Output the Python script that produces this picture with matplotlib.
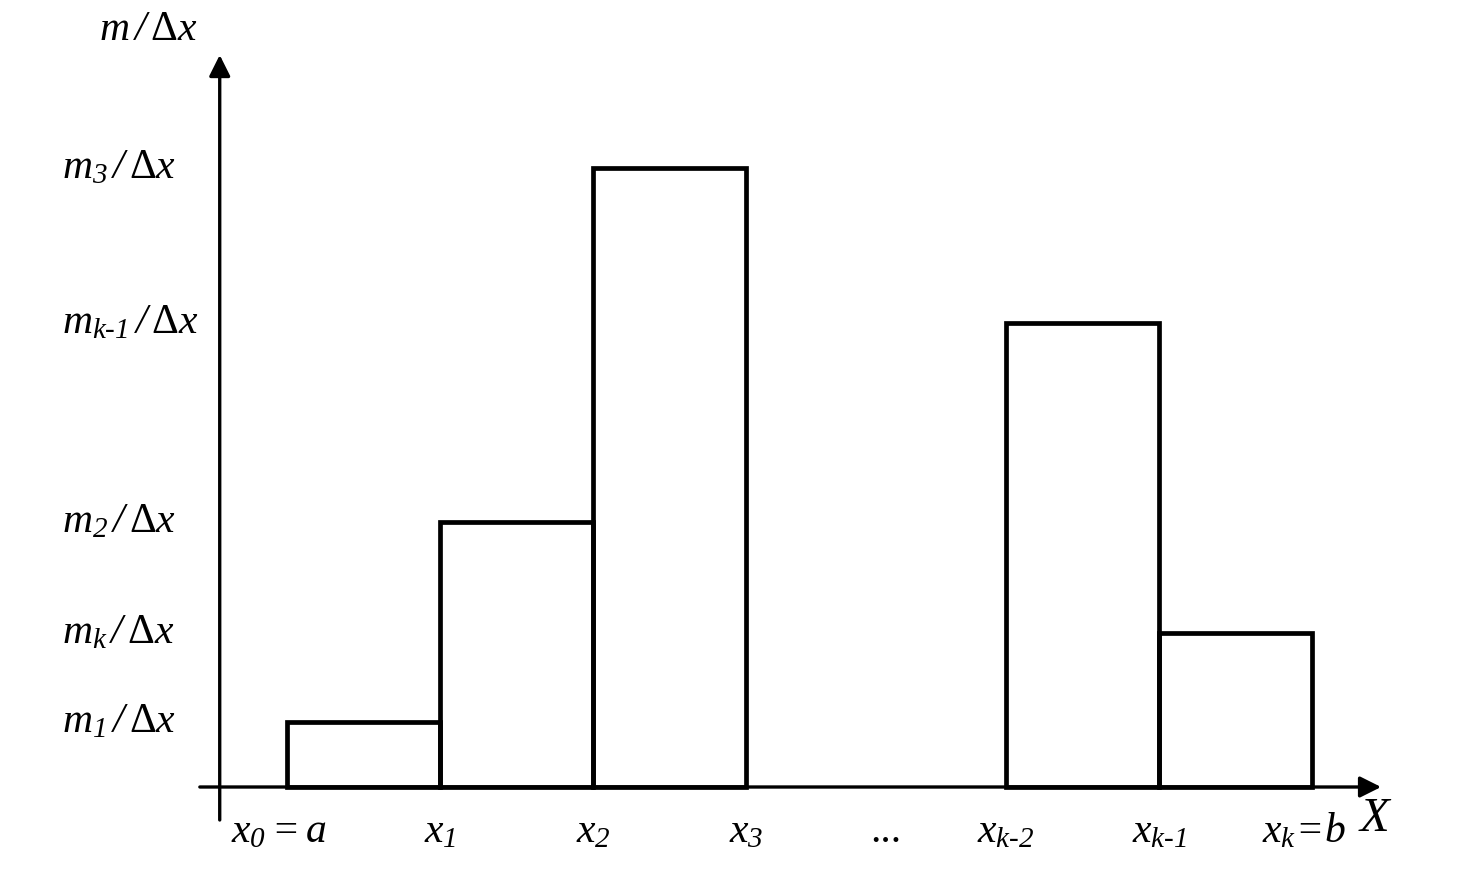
"""Histogram sketch: relative frequency density m_i/dx over intervals [x_{i-1}, x_i]."""
import matplotlib
matplotlib.use("Agg")
import matplotlib.pyplot as plt
import numpy as np

# italic everywhere (digits too), upright Delta taken from the sf slot
plt.rcParams["mathtext.fontset"] = "custom"
plt.rcParams["mathtext.rm"] = "Liberation Serif:italic"
plt.rcParams["mathtext.it"] = "Liberation Serif:italic"
plt.rcParams["mathtext.sf"] = "Liberation Serif"
plt.rcParams["font.family"] = ["Liberation Serif", "DejaVu Serif"]

# bin edges in units of bin width (left group, right group)
left_edges = [0.0, 1.0, 2.0, 4.70, 5.70]
widths = [1.0, 1.0, 1.0, 1.0, 1.0]
heights = [0.65, 2.65, 6.19, 4.64, 1.54]

D = r"\,/\,\mathsf{\Delta}x"
# tick labels on the vertical axis, one per bar height
ytick_vals = [0.65, 2.65, 6.19, 4.64, 1.54]
ytick_labels = [r"$m_{1}" + D + "$",
                r"$m_{2}" + D + "$",
                r"$m_{3}" + D + "$",
                r"$m_{k\text{-}1}" + D + "$",
                r"$m_{k}" + D + "$"]

# tick labels on the horizontal axis
xtick_vals = [0.0, 1.0, 2.0, 3.0, 3.91, 4.70, 5.70, 6.70]
xtick_labels = [r"$x_{0}=a$", r"$x_{1}$", r"$x_{2}$", r"$x_{3}$", "...",
                r"$x_{k\text{-}2}$", r"$x_{k\text{-}1}$", r"$x_{k}\!=\!b$"]

FS = 30

fig = plt.figure(figsize=(14.79, 8.81), dpi=100)
ax = fig.add_axes([0, 0, 1, 1])
ax.set_xlim(-1.876, 7.79)
ax.set_ylim(-0.94, 7.87)
ax.axis("off")

ax.bar(left_edges, heights, width=widths, align="edge", fill=False,
       edgecolor="black", linewidth=3.4, joinstyle="miter")

# axes with arrows
y_axis_x = -0.44
ax.annotate("", xy=(y_axis_x, 7.32), xytext=(y_axis_x, -0.33),
            arrowprops=dict(arrowstyle="-|>", lw=2.4, color="black",
                            mutation_scale=32, shrinkA=0, shrinkB=0))
ax.annotate("", xy=(7.15, 0.0), xytext=(-0.57, 0.0),
            arrowprops=dict(arrowstyle="-|>", lw=2.4, color="black",
                            mutation_scale=32, shrinkA=0, shrinkB=0))

for v, lab in zip(ytick_vals, ytick_labels):
    ax.text(-1.47, v, lab, fontsize=FS, ha="left", va="center")

# the two wide end labels sit a little left of their edge
for i, (v, lab) in enumerate(zip(xtick_vals, xtick_labels)):
    dx = -6 if i in (0, len(xtick_vals) - 1) else 0
    ax.annotate(lab, (v, -0.55), xytext=(dx, 0), textcoords="offset points",
                fontsize=FS, ha="center", va="baseline")

ax.text(-0.91, 7.47, r"$m" + D + "$", fontsize=FS, ha="center", va="baseline")
ax.text(7.11, -0.44, r"$X$", fontsize=FS + 5, ha="center", va="baseline")

fig.savefig("out.png", dpi=100)
